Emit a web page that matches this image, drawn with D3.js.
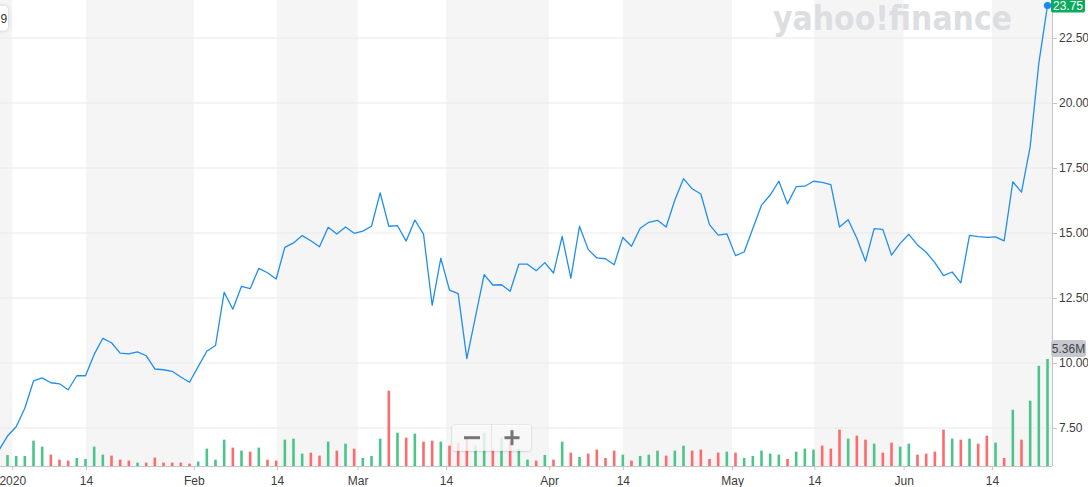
<!DOCTYPE html>
<html>
<head>
<meta charset="utf-8">
<title>Chart</title>
<script src="https://cdnjs.cloudflare.com/ajax/libs/d3/7.8.5/d3.min.js"></script>
<style>
  body { margin: 0; background: #fff; }
  svg { display: block; font-family: "Liberation Sans Narrow", "Liberation Sans", sans-serif; }
  .tick text { fill: #3d3d3d; font-size: 12px; font-family: "Liberation Sans Narrow", "Liberation Sans", sans-serif; }
</style>
</head>
<body>
<script>
// closing prices, one per trading day, starting Dec 30 2019 (index -1) to Jun 23 2020 (index 120)
const prices = [6.64, 7.19, 7.55, 8.26, 9.31, 9.43, 9.24, 9.20, 8.97, 9.51, 9.51,
  10.33, 10.95, 10.78, 10.38, 10.35, 10.43, 10.28, 9.77, 9.74, 9.68,
  9.46, 9.26, 9.86, 10.45, 10.67, 12.72, 12.07, 12.95, 12.86, 13.64,
  13.47, 13.23, 14.45, 14.62, 14.90, 14.70, 14.47, 15.22, 14.96, 15.23,
  14.99, 15.07, 15.26, 16.54, 15.26, 15.28, 14.69, 15.50, 14.96, 12.22,
  14.03, 12.80, 12.67, 10.17, 11.78, 13.40, 13.00, 13.01, 12.76, 13.80,
  13.80, 13.55, 13.86, 13.46, 14.87, 13.26, 15.26, 14.37, 14.04, 14.01,
  13.78, 14.83, 14.49, 15.18, 15.41, 15.49, 15.23, 16.27, 17.09, 16.70,
  16.50, 15.32, 14.92, 14.97, 14.13, 14.27, 15.17, 16.07, 16.46, 16.99,
  16.12, 16.78, 16.80, 16.99, 16.95, 16.86, 15.23, 15.51, 14.80, 13.91,
  15.17, 15.14, 14.15, 14.60, 14.95, 14.54, 14.26, 13.86, 13.36, 13.50,
  13.08, 14.91, 14.86, 14.83, 14.85, 14.70, 16.97, 16.57, 18.32, 21.53, 23.75];

// volume in millions, index 0 (Dec 31 2019) to 120 (Jun 23 2020)
const volumes = [0.55, 0.50, 0.50, 1.27, 0.97, 0.57, 0.32, 0.27, 0.40, 0.35,
  0.97, 0.57, 0.52, 0.32, 0.27, 0.17, 0.17, 0.42, 0.17, 0.17,
  0.17, 0.12, 0.22, 0.87, 0.32, 1.32, 0.92, 0.77, 0.72, 0.92,
  0.32, 0.27, 1.32, 1.37, 0.62, 0.67, 0.52, 1.22, 0.77, 1.12,
  0.87, 0.40, 0.50, 1.37, 3.77, 1.67, 1.42, 1.62, 1.22, 1.27,
  1.22, 1.02, 1.17, 1.42, 1.02, 1.67, 0.80, 1.42, 1.27, 0.85,
  0.32, 0.27, 0.55, 0.32, 1.22, 0.67, 0.45, 0.62, 0.82, 0.40,
  0.77, 0.57, 0.27, 0.50, 0.57, 0.77, 0.52, 0.77, 1.02, 0.77,
  0.82, 0.35, 0.67, 0.72, 0.67, 0.40, 0.50, 0.77, 0.62, 0.57,
  0.35, 0.72, 0.87, 0.82, 1.02, 0.87, 1.82, 1.37, 1.52, 1.32,
  1.12, 0.67, 1.17, 0.97, 1.12, 0.57, 0.62, 0.72, 1.82, 1.37,
  1.32, 1.37, 1.12, 1.52, 1.17, 0.40, 2.82, 1.32, 3.27, 5.02, 5.36];

// date ticks, as trading-day positions
const tickPos = [0.55, 9.06, 21.5, 31.1, 40.4, 50.6, 62.5, 71.0, 83.6, 93.1, 103.4, 113.6];
const tickLabels = ["2020", "14", "Feb", "14", "Mar", "14", "Apr", "14", "May", "14", "Jun", "14"];
const priceTicks = [7.5, 10, 12.5, 15, 17.5, 20, 22.5];

const w = 1088;
const h = 487;
const right = 1052;
const bottom = 466;

const x = d3.scaleLinear().domain([0, 120]).range([7.5, 1047.5]);
const y = d3.scaleLinear().domain([7.5, 22.5]).range([428, 38]);
const yVol = d3.scaleLinear().domain([0, 5.36]).range([bottom, 359]);

const svg = d3.select("body").append("svg")
  .attr("width", w)
  .attr("height", h);

svg.append("defs").append("clipPath").attr("id", "plot")
  .append("rect").attr("x", 0).attr("y", 0).attr("width", right).attr("height", bottom);

const plot = svg.append("g").attr("clip-path", "url(#plot)");

// alternating background bands
const edges = [x.invert(0)].concat(tickPos, [x.invert(right)]);
const bands = [];
for (let i = 0; i < edges.length - 1; i += 2) bands.push([edges[i], edges[i + 1]]);
plot.selectAll("rect.band")
  .data(bands)
  .enter()
  .append("rect")
  .attr("class", "band")
  .attr("x", d => x(d[0]))
  .attr("y", 0)
  .attr("width", d => x(d[1]) - x(d[0]))
  .attr("height", bottom)
  .attr("fill", "#f5f5f5");

// grid lines
plot.selectAll("line.grid")
  .data(priceTicks)
  .enter()
  .append("line")
  .attr("class", "grid")
  .attr("x1", 0).attr("x2", right)
  .attr("y1", d => y(d)).attr("y2", d => y(d))
  .attr("stroke", "#e9e9e9");

// watermark
svg.append("text")
  .attr("x", 773)
  .attr("y", 30)
  .attr("textLength", 239)
  .attr("lengthAdjust", "spacingAndGlyphs")
  .attr("font-family", "'DejaVu Sans', sans-serif")
  .attr("font-size", 33)
  .attr("font-weight", 800)
  .attr("fill", "#dcdee2")
  .text("yahoo!finance");

// volume bars
plot.selectAll("rect.vol")
  .data(volumes)
  .enter()
  .append("rect")
  .attr("class", "vol")
  .attr("x", (d, i) => x(i) - 1.3)
  .attr("y", d => yVol(d))
  .attr("width", 2.6)
  .attr("height", d => bottom - yVol(d))
  .attr("fill", (d, i) => prices[i + 1] >= prices[i] ? "#4cc48b" : "#fd6b6e");

// price line
const line = d3.line()
  .x((d, i) => x(i - 1))
  .y(d => y(d));

plot.append("path")
  .datum(prices)
  .attr("d", line)
  .attr("fill", "none")
  .attr("stroke", "#1f8ef1")
  .attr("stroke-width", 1.3)
  .attr("stroke-linejoin", "round");

// last point
svg.append("circle")
  .attr("cx", x(120))
  .attr("cy", y(prices[prices.length - 1]))
  .attr("r", 3.6)
  .attr("fill", "#1b86f2");

// axes
const yAxis = d3.axisRight(y)
  .tickValues(priceTicks)
  .tickSize(5)
  .tickPadding(2)
  .tickFormat(d3.format(".2f"));

const yg = svg.append("g")
  .attr("transform", "translate(" + right + ",0)")
  .call(yAxis);
yg.select(".domain").remove();
yg.selectAll(".tick line").attr("stroke", "#c4c4c4");

const xAxis = d3.axisBottom(x)
  .tickValues(tickPos)
  .tickSize(4)
  .tickPadding(6)
  .tickFormat((d, i) => tickLabels[i]);

const xg = svg.append("g")
  .attr("transform", "translate(0," + bottom + ")")
  .call(xAxis);
xg.select(".domain").remove();
xg.selectAll(".tick line").attr("stroke", "#c4c4c4");

svg.append("line")
  .attr("x1", 0).attr("x2", right)
  .attr("y1", bottom + 0.5).attr("y2", bottom + 0.5)
  .attr("stroke", "#c4c4c4");
svg.append("line")
  .attr("x1", right + 0.5).attr("x2", right + 0.5)
  .attr("y1", 0).attr("y2", bottom)
  .attr("stroke", "#c4c4c4");

// last price badge
svg.append("rect")
  .attr("x", 1051).attr("y", -4)
  .attr("width", 34).attr("height", 16.5)
  .attr("rx", 2)
  .attr("fill", "#0aab5c");
svg.append("text")
  .attr("x", 1068).attr("y", 6)
  .attr("dy", "0.35em")
  .attr("text-anchor", "middle")
  .attr("font-size", 12)
  .attr("fill", "#fff")
  .text(d3.format(".2f")(prices[prices.length - 1]));

// last volume badge
svg.append("rect")
  .attr("x", 1051).attr("y", 340)
  .attr("width", 35).attr("height", 17)
  .attr("rx", 3)
  .attr("fill", "#c6c8cd");
svg.append("text")
  .attr("x", 1068.5).attr("y", 348.5)
  .attr("dy", "0.35em")
  .attr("text-anchor", "middle")
  .attr("font-size", 12)
  .attr("fill", "#3e444b")
  .text(volumes[volumes.length - 1].toFixed(2) + "M");

// clipped label box top-left
svg.append("rect")
  .attr("x", -10).attr("y", 6)
  .attr("width", 18).attr("height", 24.5)
  .attr("rx", 4)
  .attr("fill", "#fff")
  .style("filter", "drop-shadow(0 0 2px rgba(0,0,0,0.18))");
svg.append("text")
  .attr("x", 0.5).attr("y", 18.5)
  .attr("dy", "0.35em")
  .attr("font-size", 12)
  .attr("fill", "#333")
  .text("9");

// zoom control
const zc = svg.append("g");
zc.append("rect")
  .attr("x", 452).attr("y", 424.5)
  .attr("width", 79.5).attr("height", 26.5)
  .attr("rx", 3)
  .attr("fill", "rgba(255,255,255,0.8)")
  .attr("stroke", "rgba(0,0,0,0.06)")
  .style("filter", "drop-shadow(0 1px 1px rgba(0,0,0,0.12))");
zc.append("line")
  .attr("x1", 491.5).attr("x2", 491.5)
  .attr("y1", 424.5).attr("y2", 451)
  .attr("stroke", "rgba(0,0,0,0.07)");
zc.append("rect")
  .attr("x", 464).attr("y", 436.2)
  .attr("width", 16).attr("height", 3)
  .attr("fill", "#767676");
zc.append("rect")
  .attr("x", 504.5).attr("y", 436.2)
  .attr("width", 15).attr("height", 3)
  .attr("fill", "#767676");
zc.append("rect")
  .attr("x", 510.5).attr("y", 430.2)
  .attr("width", 3).attr("height", 15)
  .attr("fill", "#767676");
</script>
</body>
</html>
